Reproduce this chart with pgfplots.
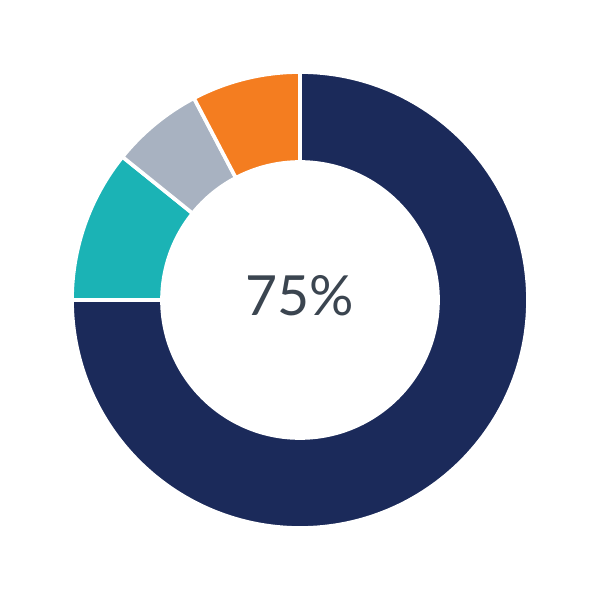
\documentclass[border=0pt]{standalone}
\usepackage{pgfplots}
\pgfplotsset{compat=1.18}
\usepackage{fontspec}
\setmainfont{Lato}
\definecolor{navy}{HTML}{1B2A5A}
\definecolor{tealc}{HTML}{1BB3B5}
\definecolor{slate}{HTML}{A8B2C1}
\definecolor{orangec}{HTML}{F47D20}
\definecolor{txt}{HTML}{3B4550}
% segment values (percent)
\def\vA{75}\def\vB{10.8}\def\vC{6.5}\def\vD{7.7}
\pgfmathsetmacro\aA{90}
\pgfmathsetmacro\aB{\aA-3.6*\vA}
\pgfmathsetmacro\aC{\aB-3.6*\vB}
\pgfmathsetmacro\aD{\aC-3.6*\vC}
\pgfmathsetmacro\aE{\aD-3.6*\vD}
\def\Ro{3.04cm}\def\Ri{1.84cm}
\newcommand\donutseg[3]{%
  \fill[#3,draw=white,line width=1.4pt,line join=round,shift={(axis cs:0,0)}]
    (#1:\Ro) arc[start angle=#1,end angle=#2,radius=\Ro] --
    (#2:\Ri) arc[start angle=#2,end angle=#1,radius=\Ri] -- cycle;}
\begin{document}
\begin{tikzpicture}
\begin{axis}[width=8cm,height=8cm,scale only axis,
  xmin=-300,xmax=300,ymin=-300,ymax=300,
  axis lines=none,clip=false]
\fill[white] (axis cs:-300,-300) rectangle (axis cs:300,300);
\donutseg{\aA}{\aB}{navy}
\donutseg{\aB}{\aC}{tealc}
\donutseg{\aC}{\aD}{slate}
\donutseg{\aD}{\aE}{orangec}
\node[text=txt,font=\fontsize{21}{21}\selectfont,inner sep=0pt] at (axis cs:0,4) {75\%};
\end{axis}
\end{tikzpicture}
\end{document}
